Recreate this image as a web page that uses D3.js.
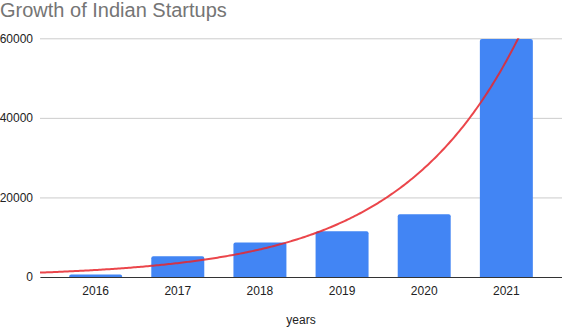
<!DOCTYPE html>
<html>
<head>
<meta charset="utf-8">
<script src="https://cdn.jsdelivr.net/npm/d3@7"></script>
<style>
  html, body { margin: 0; padding: 0; background: #fff; }
  svg { display: block; }
</style>
</head>
<body>
<svg id="chart" width="562" height="328"></svg>
<script>
const title = "Growth of Indian Startups";
const xAxisTitle = "years";
const years = ["2016", "2017", "2018", "2019", "2020", "2021"];
const startups = [650, 5200, 8700, 11500, 15800, 59800];
const yTicks = [0, 20000, 40000, 60000];
// exponential trendline y = a * exp(b * t), t = 1 for the first year
const trendCoef = [886, 0.686];

const W = 562, H = 328;
const plot = { left: 40, right: 562, top: 38.3, bottom: 277 };

const svg = d3.select("#chart");

const x = d3.scaleBand()
  .domain(years)
  .range([plot.left, plot.right])
  .padding(0.355);

const y = d3.scaleLinear()
  .domain([0, 60000])
  .range([plot.bottom, plot.top]);

// title
svg.append("text")
  .attr("x", 0).attr("y", 17)
  .attr("font-family", "Liberation Sans, Arial, sans-serif")
  .attr("font-size", 20)
  .attr("fill", "#757575")
  .text(title);

// gridlines
const yAxis = d3.axisLeft(y).tickValues(yTicks).tickSize(-(plot.right - plot.left)).tickPadding(7).tickFormat(d3.format("d"));
const gy = svg.append("g").attr("transform", `translate(${plot.left},0)`).call(yAxis);
gy.select(".domain").remove();
gy.selectAll(".tick line").attr("stroke", "#cccccc").attr("stroke-width", 1);
gy.selectAll(".tick text")
  .attr("font-family", "Liberation Sans, Arial, sans-serif")
  .attr("font-size", 12)
  .attr("fill", "#222");

// bars
const r = 2;
svg.append("g").selectAll("path")
  .data(years.map((yr, i) => ({ yr, v: startups[i] })))
  .join("path")
  .attr("fill", "#4285f4")
  .attr("d", d => {
    const x0 = x(d.yr), x1 = x0 + x.bandwidth();
    const y0 = y(0), y1 = y(d.v);
    const rr = Math.min(r, (y0 - y1));
    return `M${x0},${y0}V${y1 + rr}Q${x0},${y1} ${x0 + rr},${y1}H${x1 - rr}Q${x1},${y1} ${x1},${y1 + rr}V${y0}Z`;
  });

// baseline axis
const xAxis = d3.axisBottom(x).tickSize(0).tickPadding(9);
const gx = svg.append("g").attr("transform", `translate(0,${plot.bottom})`).call(xAxis);
gx.select(".domain").attr("stroke", "#333").attr("stroke-width", 1);
gx.selectAll(".tick text")
  .attr("font-family", "Liberation Sans, Arial, sans-serif")
  .attr("font-size", 12)
  .attr("fill", "#222");

// trendline
const step = x.step();
const c0 = x(years[0]) + x.bandwidth() / 2;
const pxToT = px => (px - c0) / step + 1;
const tToPx = t => c0 + (t - 1) * step;
const tStart = pxToT(plot.left), tEnd = pxToT(plot.right);
const pts = d3.range(0, 301).map(k => {
  const t = tStart + (tEnd - tStart) * k / 300;
  return [tToPx(t), trendCoef[0] * Math.exp(trendCoef[1] * t)];
});
svg.append("clipPath").attr("id", "clip")
  .append("rect")
  .attr("x", plot.left).attr("y", plot.top)
  .attr("width", plot.right - plot.left).attr("height", plot.bottom - plot.top);
svg.append("path")
  .datum(pts)
  .attr("clip-path", "url(#clip)")
  .attr("fill", "none")
  .attr("stroke", "#e8262c")
  .attr("stroke-opacity", 0.85)
  .attr("stroke-width", 2)
  .attr("d", d3.line().x(d => d[0]).y(d => y(d[1])));

// x-axis title
svg.append("text")
  .attr("x", (plot.left + plot.right) / 2).attr("y", 324)
  .attr("text-anchor", "middle")
  .attr("font-family", "Liberation Sans, Arial, sans-serif")
  .attr("font-size", 12)
  .attr("fill", "#222")
  .text(xAxisTitle);
</script>
</body>
</html>
